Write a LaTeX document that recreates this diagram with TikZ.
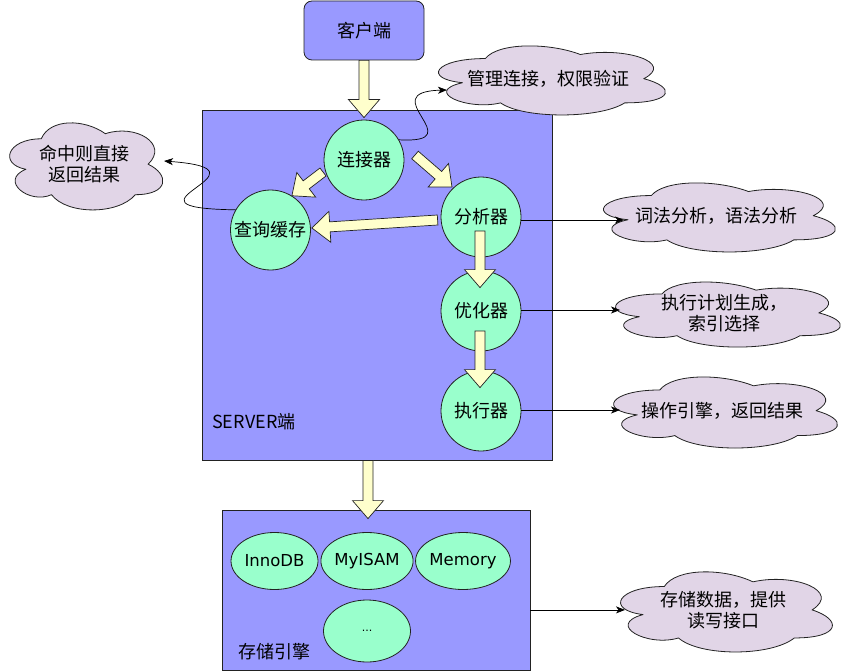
\documentclass[tikz,border=0pt]{standalone}
\usepackage{fontspec}
\setmainfont{Noto Sans CJK SC}
\newfontfamily\latinf{DejaVu Sans}
\usetikzlibrary{shapes.geometric,arrows.meta,calc}
\definecolor{boxblue}{HTML}{9999FF}
\definecolor{mint}{HTML}{99FFCC}
\definecolor{pale}{HTML}{FFFFCC}
\definecolor{lilac}{HTML}{E1D5E7}
\definecolor{edge}{HTML}{222222}
\newcommand\blockarr[2]{%
  \path #1 coordinate (baA) #2 coordinate (baB);
  \path ($(baB)!18pt!(baA)$) coordinate (baC);
  \draw[blockstyle] ($(baA)!5pt!90:(baB)$) -- ($(baC)!5pt!-90:(baA)$)
    -- ($(baC)!15.5pt!-90:(baA)$) -- (baB) -- ($(baC)!15.5pt!90:(baA)$)
    -- ($(baC)!5pt!90:(baA)$) -- ($(baA)!5pt!-90:(baB)$) -- cycle;
}
% name, cx, cy, W, H, text
\newcommand\mxcloud[6]{%
  \begin{scope}[shift={(#2-#4/2,#3-#5/2)}, x=#4pt, y=-#5pt]
    \draw[cloudline] (0.25,0.25) .. controls (0.05,0.25) and (0,0.5) .. (0.16,0.55)
      .. controls (0,0.66) and (0.18,0.9) .. (0.31,0.8)
      .. controls (0.4,1) and (0.7,1) .. (0.8,0.8)
      .. controls (1,0.8) and (1,0.6) .. (0.875,0.5)
      .. controls (1,0.3) and (0.8,0.1) .. (0.625,0.2)
      .. controls (0.5,0.05) and (0.3,0.05) .. (0.25,0.25) -- cycle;
  \end{scope}
  \node[cloudtext, minimum width=#4pt, minimum height=#5pt] (#1) at (#2,#3) {#6};
}
\tikzset{
  blockstyle/.style={fill=pale, draw=edge, line width=0.7pt, line join=miter},
  box/.style={draw=edge, fill=boxblue, line width=0.8pt, inner sep=0pt},
  ball/.style={circle, draw=edge, fill=mint, line width=0.8pt, minimum size=80pt, inner sep=0pt, font=\fontsize{18}{21}\selectfont},
  egg/.style={ellipse, draw=edge, fill=mint, line width=0.8pt, minimum width=87pt, minimum height=57pt, inner sep=0pt, font=\latinf\fontsize{16.5}{19}\selectfont},
  cloudline/.style={draw=edge, fill=lilac, line width=0.8pt, line join=round},
  cloudtext/.style={inner sep=0pt, align=center, font=\fontsize{18}{21}\selectfont},
  link/.style={draw=black, line width=0.7pt, -{Stealth[length=9pt,width=7pt,inset=2.5pt]}},
  lbl/.style={inner sep=0pt, anchor=west, font=\fontsize{18}{21}\selectfont}
}
\begin{document}
\begin{tikzpicture}[x=1pt,y=-1pt]
\useasboundingbox (0,0) rectangle (861,671);
% containers
\node[box, rounded corners=8pt, minimum width=120pt, minimum height=59pt, font=\fontsize{18}{21}\selectfont] (cl) at (364,30.5) {客户端};
\node[box, minimum width=350pt, minimum height=350pt] (sv) at (377,285) {};
\node[box, minimum width=308pt, minimum height=160pt] (st) at (376,590) {};
\node[lbl] (svl) at (212,422) {SERVER端};
\node[lbl] (stl) at (238,652) {存储引擎};
% server components
\node[ball] (cn) at (364,160) {连接器};
\node[ball] (ca) at (270.5,230) {查询缓存};
\node[ball] (an) at (481,217) {分析器};
\node[ball] (op) at (481,311) {优化器};
\node[ball] (ex) at (481,411) {执行器};
% engines
\node[egg] (inno) at (274.5,561) {InnoDB};
\node[egg] (myi) at (367,561) {MyISAM};
\node[egg] (mem) at (463,561) {Memory};
\node[egg, minimum height=62pt, font=\latinf\fontsize{11}{13}\selectfont] (dots) at (367,631) {...};
% clouds
\mxcloud{c1}{548.7}{78.7}{253.4}{80.6}{管理连接，权限验证}
\mxcloud{c2}{84}{164.2}{171}{101.6}{命中则直接\\返回结果}
\mxcloud{c3}{716.1}{215.7}{259}{80.6}{词法分析，语法分析}
\mxcloud{c4}{724.7}{312.9}{251}{75.9}{执行计划生成，\\索引选择}
\mxcloud{c5}{722.3}{410.7}{250}{82.9}{操作引擎，返回结果}
\mxcloud{c6}{723.4}{609.9}{236.5}{93.5}{存储数据，提供\\读写接口}
% block arrows
\blockarr{(cl.south)}{($(cn.north)+(0,-2)$)}
\blockarr{($(cn)+(-41,12)$)}{(ca.58)}
\blockarr{($(cn)+(51,-5)$)}{($(an)+(-29,-30)$)}
\blockarr{($(an.west)+(-3,3)$)}{($(ca.east)+(1,-2)$)}
\blockarr{($(an)+(-1,14)$)}{($(op.north)+(-1,17)$)}
\blockarr{($(op)+(-1,20)$)}{($(ex.north)+(-1,17)$)}
\blockarr{($(sv.south)+(-9,0)$)}{($(st.north)+(-8,9)$)}
% thin connectors
\coordinate (c1in) at (447,90);
\coordinate (c2in) at (164,161);
\coordinate (c3in) at (624,0);
\coordinate (c4in) at (620,0);
\coordinate (c5in) at (620,0);
\coordinate (c6in) at (625,0);
\draw[link] (cn.30) .. controls (474,144) and (371,92) .. (c1in);
\draw[link] (ca.150) .. controls (102,208) and (284,170) .. (c2in);
\draw[link] ($(an.east)+(0,3)$) -- ($(an.east -| c3in)+(0,3)$);
\draw[link] ($(op.east)+(0,-1)$) -- ($(op.east -| c4in)+(0,-1)$);
\draw[link] ($(ex.east)+(0,-1)$) -- ($(ex.east -| c5in)+(0,-1)$);
\draw[link] (st.east |- c6) -- (c6in |- c6);
\end{tikzpicture}
\end{document}
